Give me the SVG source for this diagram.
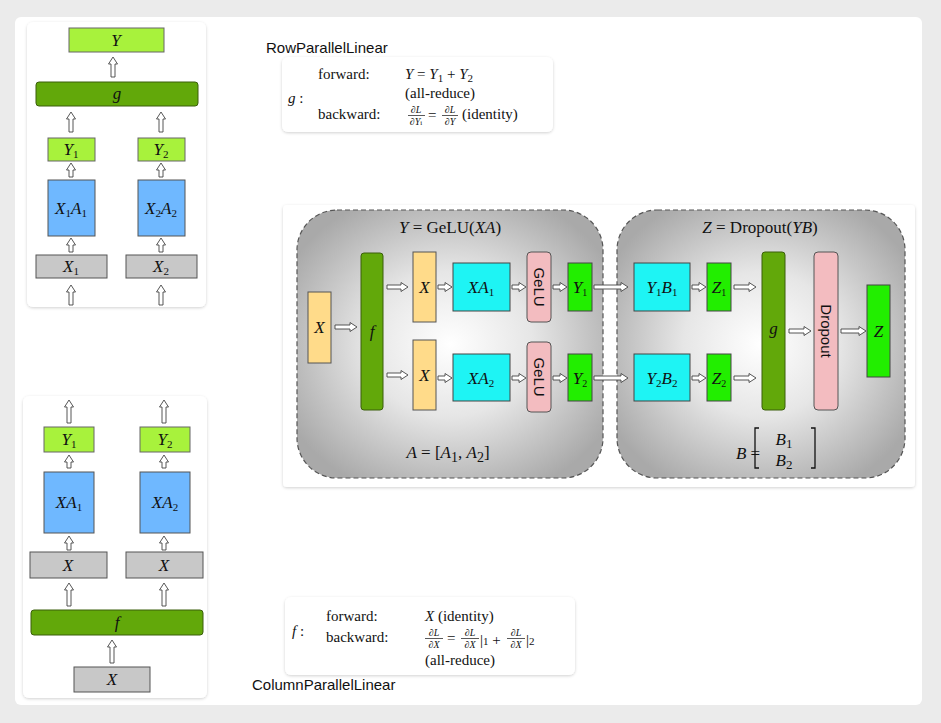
<svg xmlns="http://www.w3.org/2000/svg" width="941" height="723" viewBox="0 0 941 723">
<defs>
<radialGradient id="rg" cx="50%" cy="50%" r="60%"><stop offset="0" stop-color="#ffffff"/><stop offset="0.45" stop-color="#e6e6e6"/><stop offset="1" stop-color="#a9a9a9"/></radialGradient>
<filter id="sh" x="-5%" y="-5%" width="110%" height="110%"><feDropShadow dx="0" dy="1" stdDeviation="1.5" flood-color="#000" flood-opacity="0.18"/></filter>
</defs>
<style>
.m{font-family:"Liberation Serif",serif;font-style:italic;font-size:17px;fill:#111;text-anchor:middle}
.r{font-family:"Liberation Serif",serif;font-size:15px;fill:#111}
.s{font-family:"Liberation Sans",sans-serif;font-size:15px;fill:#111}
.sub{font-size:11px;font-style:normal}
.lg{fill:#a8f23c;stroke:#666;stroke-width:1}
.dg{fill:#62a80a;stroke:#3a5f0a;stroke-width:1}
.bl{fill:#6fb8ff;stroke:#555;stroke-width:1}
.gr{fill:#c8c8c8;stroke:#555;stroke-width:1}
.or{fill:#ffdb8a;stroke:#555;stroke-width:1}
.cy{fill:#1ef4f4;stroke:#444;stroke-width:1}
.pk{fill:#f3bcc0;stroke:#555;stroke-width:1}
.gn{fill:#22ee00;stroke:#444;stroke-width:1}
.ar{fill:#fff;stroke:#444;stroke-width:0.9}
.panel{fill:#fff;filter:url(#sh)}
.dash{fill:url(#rg);stroke:#555;stroke-width:1.2;stroke-dasharray:5 3}
.fr{font-family:"Liberation Serif",serif;font-style:italic;font-size:10px;fill:#111;text-anchor:middle}
</style>
<rect width="941" height="723" fill="#ebebeb"/>
<rect x="15" y="17" width="907" height="688" rx="6" fill="#fff"/>

<!-- panels -->
<rect class="panel" x="27" y="22" width="179" height="285" rx="6"/>
<rect class="panel" x="23" y="396" width="184" height="302" rx="6"/>
<rect class="panel" x="282" y="57" width="271" height="75" rx="6"/>
<rect class="panel" x="285" y="597" width="290" height="78" rx="6"/>
<rect class="panel" x="283" y="205" width="632" height="282" rx="4"/>
<rect class="dash" x="297" y="210" width="306" height="268" rx="40"/>
<rect class="dash" x="617" y="210" width="288" height="268" rx="40"/>

<text class="s" x="266" y="53">RowParallelLinear</text>
<text class="s" x="252" y="690">ColumnParallelLinear</text>

<!-- top formula -->
<g id="g-formula">
<text class="r" x="288" y="103"><tspan font-style="italic">g</tspan> :</text>
<text class="r" x="318" y="79">forward:</text>
<text class="r" x="405" y="79"><tspan font-style="italic">Y</tspan> = <tspan font-style="italic">Y</tspan><tspan class="sub" dy="3">1</tspan><tspan dy="-3"> + </tspan><tspan font-style="italic">Y</tspan><tspan class="sub" dy="3">2</tspan></text>
<text class="r" x="405" y="98">(all-reduce)</text>
<text class="r" x="318" y="119">backward:</text>
<text class="fr" x="416" y="113">∂L</text><line x1="408" y1="115.5" x2="425" y2="115.5" stroke="#111" stroke-width="0.7"/><text class="fr" x="416" y="125">∂Y<tspan font-size="7" font-style="normal">i</tspan></text>
<text class="r" x="428" y="120">=</text>
<text class="fr" x="450" y="113">∂L</text><line x1="442" y1="115.5" x2="458" y2="115.5" stroke="#111" stroke-width="0.7"/><text class="fr" x="450" y="125">∂Y</text>
<text class="r" x="462" y="119">(identity)</text>
</g>

<!-- bottom formula -->
<g id="f-formula">
<text class="r" x="292" y="636"><tspan font-style="italic">f</tspan> :</text>
<text class="r" x="326" y="621">forward:</text>
<text class="r" x="425" y="621"><tspan font-style="italic">X</tspan> (identity)</text>
<text class="r" x="326" y="642">backward:</text>
<text class="fr" x="434" y="636">∂L</text><line x1="425" y1="638.5" x2="443" y2="638.5" stroke="#111" stroke-width="0.7"/><text class="fr" x="434" y="648">∂X</text>
<text class="r" x="447" y="643">=</text>
<text class="fr" x="470" y="636">∂L</text><line x1="461" y1="638.5" x2="479" y2="638.5" stroke="#111" stroke-width="0.7"/><text class="fr" x="470" y="648">∂X</text>
<text class="r" x="480" y="645">|<tspan font-size="11">1</tspan> +</text>
<text class="fr" x="516" y="636">∂L</text><line x1="507" y1="638.5" x2="525" y2="638.5" stroke="#111" stroke-width="0.7"/><text class="fr" x="516" y="648">∂X</text>
<text class="r" x="526" y="645">|<tspan font-size="11">2</tspan></text>
<text class="r" x="425" y="665">(all-reduce)</text>
</g>

<!-- top-left RowParallelLinear -->
<g id="tl-Y"><rect class="lg" x="69" y="28" width="95" height="24"/><text class="m" x="116" y="46">Y</text></g>
<g id="tl-g"><rect class="dg" x="36" y="82" width="162" height="24" rx="3"/><text class="m" x="117" y="99">g</text></g>
<g id="tl-Y1"><rect class="lg" x="48" y="138" width="47" height="23"/><text class="m" x="71" y="155">Y<tspan class="sub" dy="3">1</tspan></text></g>
<g id="tl-Y2"><rect class="lg" x="138" y="138" width="47" height="23"/><text class="m" x="161" y="155">Y<tspan class="sub" dy="3">2</tspan></text></g>
<g id="tl-X1A1"><rect class="bl" x="48" y="180" width="47" height="56"/><text class="m" x="71" y="214">X<tspan class="sub" dy="3">1</tspan><tspan dy="-3">A</tspan><tspan class="sub" dy="3">1</tspan></text></g>
<g id="tl-X2A2"><rect class="bl" x="138" y="180" width="47" height="56"/><text class="m" x="161" y="214">X<tspan class="sub" dy="3">2</tspan><tspan dy="-3">A</tspan><tspan class="sub" dy="3">2</tspan></text></g>
<g id="tl-X1"><rect class="gr" x="36" y="255" width="71" height="23"/><text class="m" x="71" y="272">X<tspan class="sub" dy="3">1</tspan></text></g>
<g id="tl-X2"><rect class="gr" x="126" y="255" width="71" height="23"/><text class="m" x="161" y="272">X<tspan class="sub" dy="3">2</tspan></text></g>

<!-- bottom-left ColumnParallelLinear -->
<g id="bl-Y1"><rect class="lg" x="44" y="427" width="50" height="25"/><text class="m" x="69" y="445">Y<tspan class="sub" dy="3">1</tspan></text></g>
<g id="bl-Y2"><rect class="lg" x="140" y="427" width="50" height="25"/><text class="m" x="165" y="445">Y<tspan class="sub" dy="3">2</tspan></text></g>
<g id="bl-XA1"><rect class="bl" x="44" y="472" width="50" height="61"/><text class="m" x="69" y="508">XA<tspan class="sub" dy="3">1</tspan></text></g>
<g id="bl-XA2"><rect class="bl" x="140" y="472" width="50" height="61"/><text class="m" x="165" y="508">XA<tspan class="sub" dy="3">2</tspan></text></g>
<g id="bl-X1"><rect class="gr" x="30" y="552" width="77" height="26"/><text class="m" x="68" y="571">X</text></g>
<g id="bl-X2"><rect class="gr" x="126" y="552" width="77" height="26"/><text class="m" x="164" y="571">X</text></g>
<g id="bl-f"><rect class="dg" x="31" y="610" width="172" height="25" rx="3"/><text class="m" x="117" y="628">f</text></g>
<g id="bl-X"><rect class="gr" x="74" y="667" width="76" height="25"/><text class="m" x="112" y="685">X</text></g>

<!-- main -->
<text class="m" x="450" y="233"><tspan>Y</tspan><tspan font-style="normal"> = GeLU(</tspan><tspan>XA</tspan><tspan font-style="normal">)</tspan></text>
<text class="m" x="760" y="233"><tspan>Z</tspan><tspan font-style="normal"> = Dropout(</tspan><tspan>YB</tspan><tspan font-style="normal">)</tspan></text>
<text class="m" x="448" y="458" font-size="21">A<tspan font-style="normal"> = [</tspan>A<tspan font-size="14" font-style="normal" dy="4">1</tspan><tspan font-style="normal" dy="-4">, </tspan>A<tspan font-size="14" font-style="normal" dy="4">2</tspan><tspan font-style="normal" dy="-4">]</tspan></text>
<g id="B-eq">
<text class="m" x="748" y="459" font-size="21" text-anchor="end">B<tspan font-style="normal"> =</tspan></text>
<path d="M759,428 h-4 v40 h4 M811,428 h4 v40 h-4" fill="none" stroke="#111" stroke-width="1.3"/>
<text class="m" x="784" y="445" font-size="19">B<tspan font-size="13" font-style="normal" dy="3">1</tspan></text>
<text class="m" x="784" y="466" font-size="19">B<tspan font-size="13" font-style="normal" dy="3">2</tspan></text>
</g>

<g id="m-X"><rect class="or" x="308" y="292" width="23" height="71"/><text class="m" x="319.5" y="333">X</text></g>
<g id="m-f"><rect class="dg" x="361" y="253" width="22" height="157" rx="3"/><text class="m" x="372" y="337">f</text></g>
<g id="m-Xa"><rect class="or" x="413" y="252" width="23" height="70"/><text class="m" x="424.5" y="293">X</text></g>
<g id="m-Xb"><rect class="or" x="413" y="340" width="23" height="70"/><text class="m" x="424.5" y="381">X</text></g>
<g id="m-XA1"><rect class="cy" x="453" y="263" width="57" height="48"/><text class="m" x="481" y="293">XA<tspan class="sub" dy="3">1</tspan></text></g>
<g id="m-XA2"><rect class="cy" x="453" y="354" width="57" height="47"/><text class="m" x="481" y="384">XA<tspan class="sub" dy="3">2</tspan></text></g>
<g id="m-GeLU1"><rect class="pk" x="527" y="252" width="24" height="70" rx="4"/><text class="s" transform="translate(534,287) rotate(90)" text-anchor="middle" font-size="14">GeLU</text></g>
<g id="m-GeLU2"><rect class="pk" x="527" y="342" width="24" height="70" rx="4"/><text class="s" transform="translate(534,377) rotate(90)" text-anchor="middle" font-size="14">GeLU</text></g>
<g id="m-Y1"><rect class="gn" x="568" y="263" width="24" height="48"/><text class="m" x="580" y="293" font-size="15">Y<tspan font-size="10" font-style="normal" dy="3">1</tspan></text></g>
<g id="m-Y2"><rect class="gn" x="568" y="354" width="24" height="47"/><text class="m" x="580" y="384" font-size="15">Y<tspan font-size="10" font-style="normal" dy="3">2</tspan></text></g>
<g id="m-Y1B1"><rect class="cy" x="634" y="263" width="56" height="48"/><text class="m" x="662" y="293">Y<tspan class="sub" dy="3">1</tspan><tspan dy="-3">B</tspan><tspan class="sub" dy="3">1</tspan></text></g>
<g id="m-Y2B2"><rect class="cy" x="634" y="354" width="56" height="47"/><text class="m" x="662" y="384">Y<tspan class="sub" dy="3">2</tspan><tspan dy="-3">B</tspan><tspan class="sub" dy="3">2</tspan></text></g>
<g id="m-Z1"><rect class="gn" x="707" y="263" width="24" height="48"/><text class="m" x="719" y="293" font-size="15">Z<tspan font-size="10" font-style="normal" dy="3">1</tspan></text></g>
<g id="m-Z2"><rect class="gn" x="707" y="354" width="24" height="47"/><text class="m" x="719" y="384" font-size="15">Z<tspan font-size="10" font-style="normal" dy="3">2</tspan></text></g>
<g id="m-g"><rect class="dg" x="762" y="252" width="23" height="158" rx="3"/><text class="m" x="773.5" y="334">g</text></g>
<g id="m-Dropout"><rect class="pk" x="814" y="252" width="24" height="158" rx="4"/><text class="s" transform="translate(821,331) rotate(90)" text-anchor="middle" font-size="15">Dropout</text></g>
<g id="m-Z"><rect class="gn" x="867" y="285" width="23" height="92"/><text class="m" x="878.5" y="337" font-size="19">Z</text></g>

<g id="connectors" class="ar">
<path d="M335,325 H350 V322.5 L357,327 L350,331.5 V329 H335 Z"/>
<path d="M387,285 H401 V282.5 L408,287 L401,291.5 V289 H387 Z"/>
<path d="M387,373 H401 V370.5 L408,375 L401,379.5 V377 H387 Z"/>
<path d="M438,285 H445 V282.5 L452,287 L445,291.5 V289 H438 Z"/>
<path d="M438,376 H445 V373.5 L452,378 L445,382.5 V380 H438 Z"/>
<path d="M512,285 H519 V282.5 L526,287 L519,291.5 V289 H512 Z"/>
<path d="M512,376 H519 V373.5 L526,378 L519,382.5 V380 H512 Z"/>
<path d="M553,285 H560 V282.5 L567,287 L560,291.5 V289 H553 Z"/>
<path d="M553,376 H560 V373.5 L567,378 L560,382.5 V380 H553 Z"/>
<path d="M594,285 H621 V282.5 L628,287 L621,291.5 V289 H594 Z"/>
<path d="M594,376 H621 V373.5 L628,378 L621,382.5 V380 H594 Z"/>
<path d="M692,285 H699 V282.5 L706,287 L699,291.5 V289 H692 Z"/>
<path d="M692,376 H699 V373.5 L706,378 L699,382.5 V380 H692 Z"/>
<path d="M734,285 H749 V282.5 L756,287 L749,291.5 V289 H734 Z"/>
<path d="M734,376 H749 V373.5 L756,378 L749,382.5 V380 H734 Z"/>
<path d="M789,329 H804 V326.5 L811,331 L804,335.5 V333 H789 Z"/>
<path d="M841,329 H859 V326.5 L866,331 L859,335.5 V333 H841 Z"/>
<!-- vertical, top-left -->
<path d="M111,77 V64 H108.5 L113,57 L117.5,64 H115 V77 Z"/>
<path d="M69,132 V119 H66.5 L71,112 L75.5,119 H73 V132 Z"/>
<path d="M159,132 V119 H156.5 L161,112 L165.5,119 H163 V132 Z"/>
<path d="M69,177 V170 H66.5 L71,163 L75.5,170 H73 V177 Z"/>
<path d="M159,177 V170 H156.5 L161,163 L165.5,170 H163 V177 Z"/>
<path d="M69,252 V245 H66.5 L71,238 L75.5,245 H73 V252 Z"/>
<path d="M159,252 V245 H156.5 L161,238 L165.5,245 H163 V252 Z"/>
<path d="M69,305 V292 H66.5 L71,285 L75.5,292 H73 V305 Z"/>
<path d="M159,305 V292 H156.5 L161,285 L165.5,292 H163 V305 Z"/>
<!-- vertical, bottom-left -->
<path d="M67,423 V407 H64.5 L69,400 L73.5,407 H71 V423 Z"/>
<path d="M162,423 V407 H159.5 L164,400 L168.5,407 H166 V423 Z"/>
<path d="M67,468 V462 H64.5 L69,455 L73.5,462 H71 V468 Z"/>
<path d="M162,468 V462 H159.5 L164,455 L168.5,462 H166 V468 Z"/>
<path d="M67,550 V543 H64.5 L69,536 L73.5,543 H71 V550 Z"/>
<path d="M162,550 V543 H159.5 L164,536 L168.5,543 H166 V550 Z"/>
<path d="M67,606 V590 H64.5 L69,583 L73.5,590 H71 V606 Z"/>
<path d="M162,606 V590 H159.5 L164,583 L168.5,590 H166 V606 Z"/>
<path d="M110,663 V647 H107.5 L112,640 L116.5,647 H114 V663 Z"/>
</g>
</svg>
